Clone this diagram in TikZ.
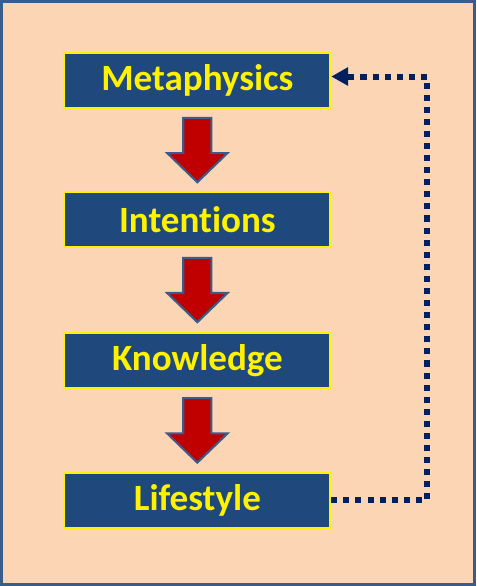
\documentclass[tikz,border=0pt]{standalone}
\usepackage{fontspec}
\setmainfont{Carlito}[Ligatures=NoCommon, Contextuals=NoAlternate]
\usetikzlibrary{calc,arrows.meta}
\definecolor{peach}{HTML}{FCD5B5}
\definecolor{boxblue}{HTML}{1F497D}
\definecolor{edgeblue}{HTML}{385D8A}
\definecolor{navy}{HTML}{002060}
\definecolor{arrowred}{HTML}{C00000}
\begin{document}
\begin{tikzpicture}[x=0.75pt,y=-0.75pt,
		stage/.style={fill=boxblue, draw=yellow, line width=1.5pt, text=yellow,
			minimum width=198pt, minimum height=40.5pt, inner sep=0pt,
			font=\bfseries\fontsize{27.6}{33}\selectfont},
		blockarrow/.style={fill=arrowred, draw=edgeblue, line width=1.5pt, line join=miter},
		dotline/.style={navy, line width=4.5pt, dash pattern=on 4.5pt off 4.5pt, -{Triangle[length=12.5pt,width=13pt]}}]
		% frame
		\useasboundingbox (0,0) rectangle (473,582);
		\draw[edgeblue, fill=peach, line width=2.25pt] (1.5,1.5) rectangle (471.5,580.5);
		%
		\node[stage] (meta) at (196,80) {Metaphysics};
		\node[stage] (inten) at (196,218) {Intentions};
		\node[stage] (know) at (196,358) {Knowledge};
		\node[stage] (life) at (196,497) {Lifestyle};
		%
		\foreach \a/\b in {meta/inten, inten/know, know/life}{
			\coordinate (c) at ($(\a.south)!0.5!(\b.north)$);
			\draw[blockarrow] ($(c)+(-14,-32)$) -- ($(c)+(14,-32)$) -- ($(c)+(14,3)$) -- ($(c)+(30,3)$)
				-- ($(c)+(0,32)$) -- ($(c)+(-30,3)$) -- ($(c)+(-14,3)$) -- cycle;
		}
		%
		\coordinate (turn) at (424,497);
		\draw[dotline] (life.east) -- (turn) |- ($(meta.east)+(0,-4)$);
		%
	\end{tikzpicture}
\end{document}
